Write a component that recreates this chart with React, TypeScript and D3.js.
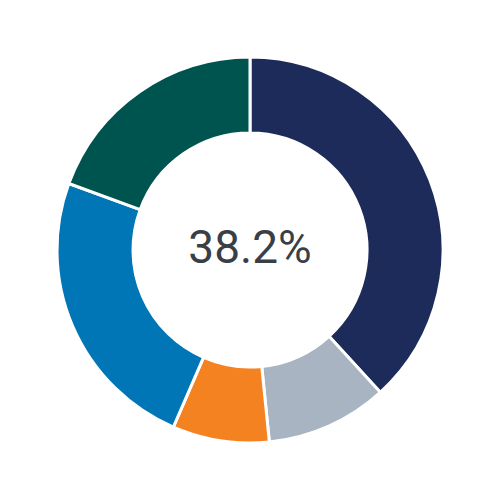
import { pie as d3pie, arc as d3arc } from "d3";

const labels = ["Navy", "Grey", "Orange", "Blue", "Teal"];
const values = [38.2, 10.2, 8.1, 24.1, 19.4];
const colors = ["#1c2b5a", "#a9b4c2", "#f58220", "#0076b6", "#00544f"];
const centerLabel = "38.2%";

export default function App() {
  const width = 500;
  const height = 500;
  const cx = 250;
  const cy = 250;

  const pie = d3pie<number>().sort(null).value((d) => d);
  const arcs = pie(values);

  const arc = d3arc<any>().innerRadius(117).outerRadius(193);

  return (
    <svg
      width={width}
      height={height}
      style={{ position: "absolute", left: 0, top: 0, background: "#fff" }}
    >
      <g transform={`translate(${cx},${cy})`}>
        {arcs.map((a, i) => (
          <path
            key={labels[i]}
            d={arc(a) ?? undefined}
            fill={colors[i]}
            stroke="#fff"
            strokeWidth={3}
            strokeLinejoin="miter"
          />
        ))}
        <text
          x={0}
          y={13}
          textAnchor="middle"
          fontFamily="Roboto, 'Liberation Sans', sans-serif"
          fontSize={46}
          fill="#3a3f47"
        >
          {centerLabel}
        </text>
      </g>
    </svg>
  );
}
